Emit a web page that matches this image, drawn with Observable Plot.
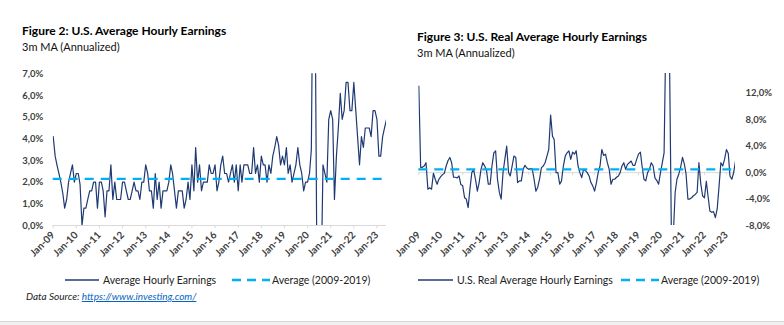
<!DOCTYPE html>
<html>
<head>
<meta charset="utf-8">
<script src="https://cdn.jsdelivr.net/npm/d3@7"></script>
<script src="https://cdn.jsdelivr.net/npm/@observablehq/plot@0.6"></script>
<style>
  html, body { margin: 0; padding: 0; background: #fff; }
  body { width: 784px; height: 325px; position: relative; overflow: hidden; font-family: Lato, "Open Sans", sans-serif; color: #000; }
  .abs { position: absolute; white-space: nowrap; }
  .title { font-weight: 700; font-size: 12px; line-height: 14px; }
  .sub { font-size: 11px; line-height: 13px; color: #111; }
  .leg { font-size: 10.5px; line-height: 12px; color: #222; }
  .src { font-size: 10px; font-style: italic; color: #222; }
  .src a { color: #0563c1; text-decoration: underline; }
  #bottomband { position: absolute; left: 0; top: 321px; width: 784px; height: 4px; background: #f0f0f0; border-top: 1px solid #d6d6d6; }
</style>
</head>
<body>
<div class="abs title" style="left:22px; top:24px;">Figure 2: U.S. Average Hourly Earnings</div>
<div class="abs sub" style="left:22px; top:40px;">3m MA (Annualized)</div>
<div class="abs title" style="left:417px; top:30px;">Figure 3: U.S. Real Average Hourly Earnings</div>
<div class="abs sub" style="left:417px; top:46px;">3m MA (Annualized)</div>
<div id="left" class="abs" style="left:0; top:60px;"></div>
<div id="right" class="abs" style="left:400px; top:60px;"></div>

<svg class="abs" style="left:0; top:270px;" width="784" height="20">
  <line x1="65" x2="99" y1="10" y2="10" stroke="#1f3a73" stroke-width="1.3"/>
  <line x1="232" x2="270" y1="10" y2="10" stroke="#00b0f0" stroke-width="2.3" stroke-dasharray="9,6"/>
  <line x1="418" x2="453" y1="10" y2="10" stroke="#1f3a73" stroke-width="1.3"/>
  <line x1="621" x2="659" y1="10" y2="10" stroke="#00b0f0" stroke-width="2.3" stroke-dasharray="9,6"/>
</svg>
<div class="abs leg" style="left:103px; top:274px;">Average Hourly Earnings</div>
<div class="abs leg" style="left:272px; top:274px;">Average (2009-2019)</div>
<div class="abs leg" style="left:457px; top:274px;">U.S. Real Average Hourly Earnings</div>
<div class="abs leg" style="left:661px; top:274px;">Average (2009-2019)</div>
<div class="abs src" style="left:26px; top:290px;">Data Source: <a>https://www.investing.com/</a></div>
<div id="bottomband"></div>

<script>
// ---- Data (monthly, starting Jan 2009) ----
const startYear = 2009;
const nominalAHE = [
  4.1, 3.2, 2.8, 2.4, 2.0, 1.5, 0.8, 1.2, 2.0, 2.4, 2.8, 2.0,
  2.4, 2.4, 1.9, 0.0, 0.8, 0.8, 1.2, 1.6, 1.6, 2.0, 2.0, 0.8,
  2.0, 2.0, 1.6, 0.4, 1.6, 1.6, 2.8, 1.2, 2.0, 1.2, 1.2, 1.2,
  2.0, 2.0, 1.6, 1.2, 1.2, 1.6, 2.0, 1.6, 1.6, 1.2, 2.0, 2.0,
  2.8, 2.4, 1.6, 1.6, 0.8, 2.4, 1.2, 2.0, 0.8, 1.6, 1.6, 1.6,
  2.0, 2.8, 2.4, 1.6, 0.8, 1.6, 1.6, 1.6, 0.8, 1.2, 2.0, 1.2,
  2.8, 1.6, 3.6, 2.0, 2.8, 1.6, 2.0, 2.0, 2.0, 2.8, 2.4, 2.4,
  2.8, 1.6, 2.0, 2.8, 3.2, 2.4, 2.4, 2.0, 2.4, 2.8, 2.0, 2.8,
  1.6, 2.8, 2.0, 2.8, 2.8, 2.8, 2.4, 2.4, 3.6, 2.4, 2.8, 2.0,
  3.2, 2.8, 2.8, 2.0, 2.8, 2.4, 3.2, 3.6, 4.1, 3.7, 2.8, 3.2,
  2.8, 3.6, 2.4, 2.8, 2.0, 2.4, 2.8, 3.6, 2.8, 2.4, 1.6, 2.0,
  2.0, 2.4, 3.5, 14.0, 10.0, -4.0, -3.0, -3.0, 2.8, 2.4, 2.0, 4.9,
  5.3, 4.9, 1.2, 3.2, 4.5, 6.1, 4.9, 5.3, 6.6, 6.6, 5.3, 5.3,
  6.6, 5.3, 4.1, 2.8, 4.1, 3.6, 4.5, 4.5, 4.5, 4.1, 5.3, 5.3,
  4.9, 3.2, 3.2, 4.1, 4.5, 4.9
];
const realAHE = [
  13.1, 0.8, 0.8, 1.0, 1.5, -2.5, -2.3, -2.5, -0.1, -1.0, -1.75, -1.0,
  -0.6, -0.3, -0.1, 1.0, 1.8, 2.3, 1.5, -0.7, -0.7, -0.8, -0.5, -1.8,
  -2.0, -3.8, -4.0, -5.3, -2.5, 0.0, 0.5, -1.0, -2.8, -1.5, 0.5, 1.5,
  1.0, 0.3, -1.75, -1.75, 1.0, 3.0, 3.3, -1.0, -3.0, -4.0, 0.0, 2.0,
  4.0, 0.0, -0.5, 1.0, 2.5, 2.3, -1.5, -1.25, -1.25, 0.5, 1.1, 0.7,
  0.5, 0.6, 0.6, -1.0, -2.8, -2.2, -1.0, 0.75, 1.0, 1.5, 2.5, 3.5,
  8.7, 5.5, 5.0, 0.0, 0.0, -1.75, -1.25, 1.0, 2.5, 3.0, 3.3, 2.0,
  3.1, 2.8, 3.3, 1.0, 0.0, -0.75, 0.5, 0.3, 0.0, -0.5, -1.5, -2.0,
  -2.8, -1.5, 0.0, 1.0, 3.5, 2.6, 2.8, 1.5, 0.5, -1.75, -1.0, -1.0,
  -0.7, -0.5, 0.0, 1.0, 1.5, 0.5, 1.25, 1.5, 1.75, 1.1, 1.1, 2.0,
  2.8, 3.1, 1.0, -1.0, -1.25, 0.0, 0.5, 1.5, 1.0, -0.8, -1.2, -1.75,
  0.0, 1.5, 3.0, 22.0, 20.0, 16.0, -10.0, -9.5, -3.0, -1.0, -0.2, 0.8,
  2.3, 1.3, -0.2, -4.0, -4.0, -3.8, -3.5, -3.3, -3.0, 1.5, -1.7, -3.5,
  -3.8, -1.3, -3.5, -5.8, -6.0, -5.9, -6.8, -5.5, -2.0, 1.5, 1.0, 2.0,
  3.5, 2.9, -0.5, -1.0, 0.0, 1.75
];
const nominalAvg = 2.15;   // Average (2009-2019)
const realAvg = 0.5;       // Average (2009-2019)
const leftYTicks = [0, 1, 2, 3, 4, 5, 6, 7];
const rightYTicks = [-8, -4, 0, 4, 8, 12];
const tickYears = d3.range(2009, 2024);

const month = i => new Date(Date.UTC(startYear, i, 1));
const nomData = nominalAHE.map((v, i) => ({date: month(i), value: v}));
const realData = realAHE.map((v, i) => ({date: month(i), value: v}));
const yearDates = tickYears.map(y => new Date(Date.UTC(y, 0, 1)));
const xDomain = [month(0), month(nominalAHE.length - 1)];
const pct = d => d.toFixed(1).replace(".", ",") + "%";
const fmtDate = d3.utcFormat("%b-%y");

const LINE = "#1f3a73";
const AVG = "#00b0f0";
const AXIS = "#d9d9d9";
const labelStyle = {fontFamily: "Lato, sans-serif", fontSize: "9.5px", fontWeight: "bold", color: "#404040", background: "transparent", overflow: "visible"};

const left = Plot.plot({
  width: 400, height: 205,
  marginLeft: 52.7, marginRight: 14, marginTop: 13.3, marginBottom: 40,
  style: labelStyle,
  x: {type: "utc", domain: xDomain, label: null},
  y: {domain: [0, 7], label: null},
  marks: [
    Plot.ruleY([0], {stroke: AXIS, strokeWidth: 1}),
    Plot.ruleX(yearDates, {x: d => d, y1: 0, y2: -0.15, stroke: AXIS}),
    Plot.axisY({ticks: leftYTicks, tickFormat: pct, tickSize: 0, tickPadding: 10, fill: "#404040", label: null}),
    Plot.axisX({ticks: yearDates, tickFormat: fmtDate, tickRotate: -45, tickSize: 0, tickPadding: 8, fill: "#404040", fontSize: 10, label: null}),
    Plot.lineY(nomData, {x: "date", y: "value", stroke: LINE, strokeWidth: 1.2, clip: true}),
    Plot.ruleY([nominalAvg], {stroke: AVG, strokeWidth: 2.3, strokeDasharray: "9,7", x1: xDomain[0], x2: xDomain[1]})
  ]
});
document.getElementById("left").appendChild(left);

const right = Plot.plot({
  width: 384, height: 205,
  marginLeft: 18.3, marginRight: 49, marginTop: 13, marginBottom: 40,
  style: labelStyle,
  x: {type: "utc", domain: xDomain, label: null},
  y: {domain: [-8, 15], label: null},
  marks: [
    Plot.ruleY([0], {stroke: AXIS, strokeWidth: 1}),
    Plot.ruleX(yearDates, {x: d => d, y1: 0, y2: -0.45, stroke: AXIS}),
    Plot.axisY({anchor: "right", ticks: rightYTicks, tickFormat: pct, tickSize: 0, tickPadding: 10, fill: "#404040", label: null}),
    Plot.axisX({ticks: yearDates, tickFormat: fmtDate, tickRotate: -45, tickSize: 0, tickPadding: 8, fill: "#404040", fontSize: 10, label: null}),
    Plot.lineY(realData, {x: "date", y: "value", stroke: LINE, strokeWidth: 1.2, clip: true}),
    Plot.ruleY([realAvg], {stroke: AVG, strokeWidth: 2.3, strokeDasharray: "9,7", x1: xDomain[0], x2: xDomain[1]})
  ]
});
document.getElementById("right").appendChild(right);
</script>
</body>
</html>
